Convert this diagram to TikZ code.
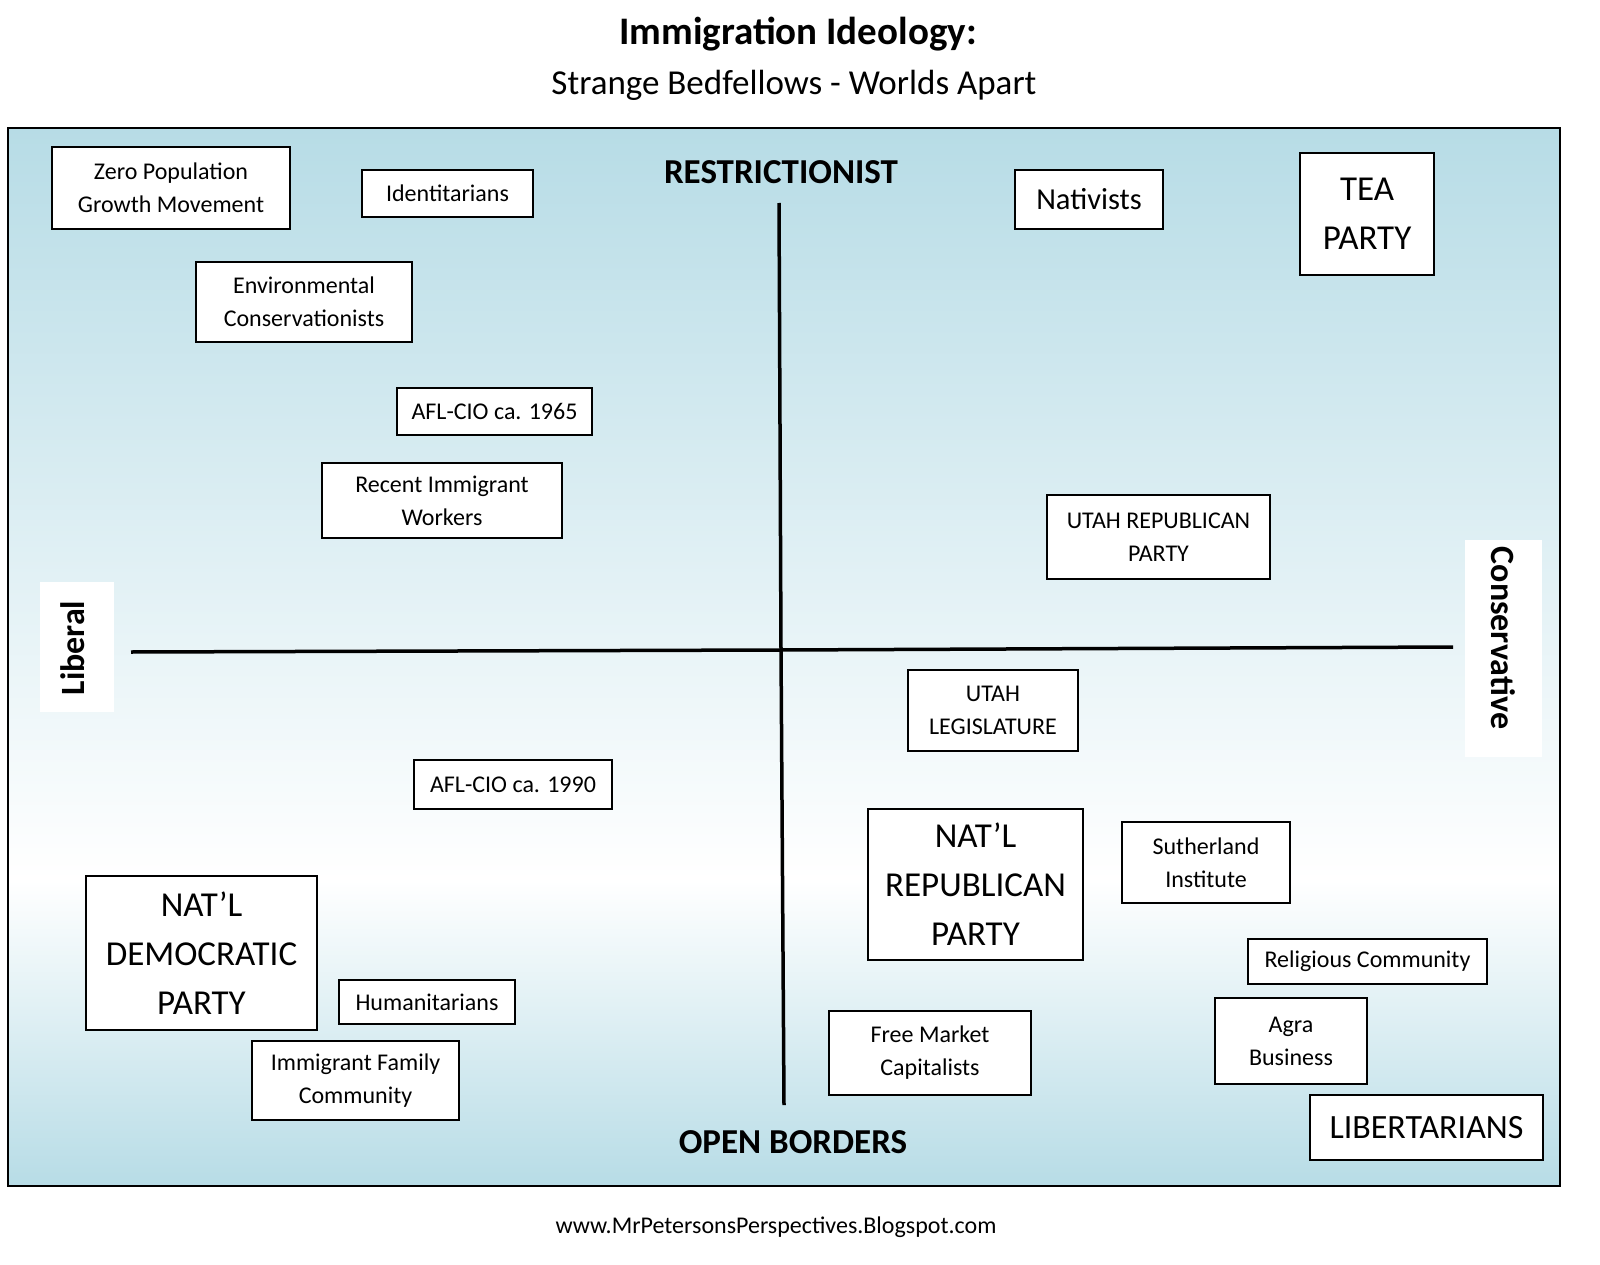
\documentclass[tikz,border=0pt]{standalone}
\usepackage{fontspec}
\setmainfont{Carlito}
\begin{document}
\begin{tikzpicture}[x=1pt,y=-1pt,
 bx/.style={draw=black,line width=1.5pt,fill=white,align=center,inner sep=0pt,font=\fontsize{24}{33}\selectfont},
 big/.style={font=\fontsize{35}{49}\selectfont},
 axl/.style={line width=3.5pt}]
\useasboundingbox (0,0) rectangle (1600,1265);
\fill[white] (0,0) rectangle (1600,1265);
\shade[top color={rgb,255:red,183;green,220;blue,230},bottom color=white] (8,128) rectangle (1560,880);
\shade[top color=white,bottom color={rgb,255:red,183;green,220;blue,230}] (8,880) rectangle (1560,1186);
\draw[line width=1.5pt] (8,128) rectangle (1560,1186);
\node[font=\fontsize{39}{44}\selectfont\bfseries] (title) at (798,34) {Immigration Ideology:};
\node[font=\fontsize{35}{40}\selectfont] (sub) at (794,85) {Strange Bedfellows - Worlds Apart};
\node[font=\fontsize{24}{28}\selectfont] (foot) at (776,1227) {www.MrPetersonsPerspectives.Blogspot.com};
\coordinate (vt) at (779,203); \coordinate (vb) at (784,1105);
\coordinate (hl) at (131,652); \coordinate (hr) at (1453,647);
\draw[axl] (vt) -- (781,650) -- (vb);
\draw[axl] (hl) -- (781,650) -- (hr);
\node[font=\fontsize{35}{40}\selectfont\bfseries] (res) at (781,172) {RESTRICTIONIST};
\node[font=\fontsize{35}{40}\selectfont\bfseries] (ob) at (793,1142) {OPEN BORDERS};
\fill[white] (40,582) rectangle (114,712);
\node[rotate=90,font=\fontsize{34}{40}\selectfont\bfseries] (lib0) at (73,648) {Liberal};
\fill[white] (1465,540) rectangle (1542,757);
\node[rotate=-90,font=\fontsize{34}{40}\selectfont\bfseries] (con) at (1503,638) {Conservative};
\node[bx,minimum width=238,minimum height=82] (zpg) at (171,188) {Zero Population\\Growth Movement};
\node[bx,minimum width=171,minimum height=47] (ident) at (447.5,193.5) {Identitarians};
\node[bx,minimum width=216,minimum height=80] (env) at (304,302) {Environmental\\Conservationists};
\node[bx,minimum width=195,minimum height=47] (afl65) at (494.5,411.5) {AFL-CIO ca. 1965};
\node[bx,minimum width=240,minimum height=75] (riw) at (442,500.5) {Recent Immigrant\\Workers};
\node[bx,minimum width=148,minimum height=59,font=\fontsize{30.5}{36}\selectfont] (nat) at (1089,199.5) {Nativists};
\node[bx,big,minimum width=134,minimum height=122] (tea) at (1367,214) {TEA\\PARTY};
\node[bx,minimum width=223,minimum height=84] (urp) at (1158.5,537) {UTAH REPUBLICAN\\PARTY};
\node[bx,minimum width=170,minimum height=81] (ul) at (993,710.5) {UTAH\\LEGISLATURE};
\node[bx,minimum width=198,minimum height=49] (afl90) at (513,784.5) {AFL-CIO ca. 1990};
\node[bx,big,minimum width=215,minimum height=151] (nrp) at (975.5,884.5) {NAT'L\\REPUBLICAN\\PARTY};
\node[bx,minimum width=168,minimum height=81] (suth) at (1206,862.5) {Sutherland\\Institute};
\node[bx,minimum width=239,minimum height=45] (rel) at (1367.5,961.5) {Religious Community};
\node[bx,minimum width=152,minimum height=86] (agra) at (1291,1041) {Agra\\Business};
\node[bx,big,minimum width=231,minimum height=154] (ndp) at (201.5,953) {NAT'L\\DEMOCRATIC\\PARTY};
\node[bx,minimum width=176,minimum height=44] (hum) at (427,1002) {Humanitarians};
\node[bx,minimum width=207,minimum height=79] (ifc) at (355.5,1080.5) {Immigrant Family\\Community};
\node[bx,minimum width=202,minimum height=84] (fmc) at (930,1053) {Free Market\\Capitalists};
\node[bx,minimum width=233,minimum height=65,font=\fontsize{34}{40}\selectfont] (libt) at (1426.5,1127.5) {LIBERTARIANS};
\end{tikzpicture}
\end{document}
